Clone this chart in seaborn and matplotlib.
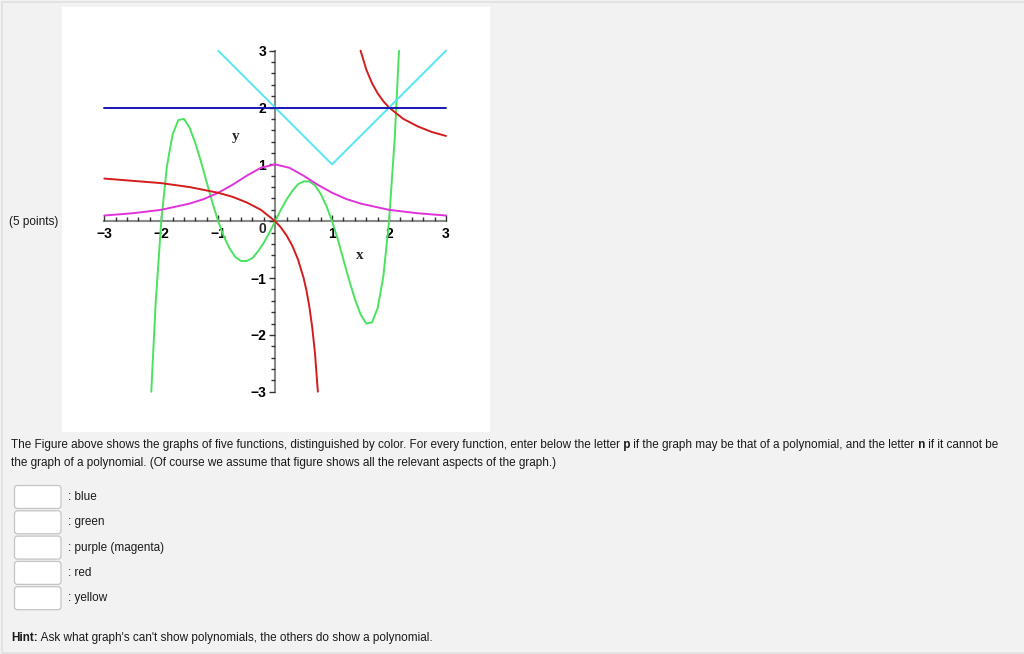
import matplotlib
matplotlib.use("Agg")
import matplotlib.pyplot as plt
import seaborn as sns
from matplotlib.patches import Rectangle, FancyBboxPatch
from matplotlib.ticker import MultipleLocator
from matplotlib.transforms import IdentityTransform

W, H = 1024, 654

# curve data
blue_x = [-3, 3]
blue_y = [2, 2]

cyan_x = [-1, 0, 1, 2, 3]
cyan_y = [3, 2, 1, 2, 3]

red_left_x = [-3, -2.5, -2, -1.5, -1, -0.75, -0.5, -0.25, 0, 0.1, 0.2, 0.3, 0.4,
              0.5, 0.55, 0.6, 0.65, 0.7, 0.75]
red_left_y = [0.75, 0.71, 0.67, 0.6, 0.5, 0.43, 0.33, 0.2, 0, -0.11, -0.25, -0.43,
              -0.67, -1.0, -1.22, -1.5, -1.86, -2.33, -3.0]
red_right_x = [1.5, 1.6, 1.7, 1.8, 1.9, 2.0, 2.25, 2.5, 2.75, 3.0]
red_right_y = [3.0, 2.67, 2.43, 2.25, 2.11, 2.0, 1.8, 1.67, 1.57, 1.5]

magenta_x = [-3, -2.5, -2, -1.5, -1.25, -1, -0.75, -0.5, -0.25, 0, 0.25, 0.5, 0.75,
             1, 1.25, 1.5, 2, 2.5, 3]
magenta_y = [0.1, 0.14, 0.2, 0.31, 0.39, 0.5, 0.64, 0.8, 0.94, 1.0, 0.94, 0.8, 0.64,
             0.5, 0.39, 0.31, 0.2, 0.14, 0.1]

green_x = [-2.175, -2.1, -2.0, -1.9, -1.8, -1.7, -1.6, -1.5, -1.4, -1.3, -1.2, -1.1,
           -1.0, -0.9, -0.8, -0.7, -0.6, -0.5, -0.4, -0.3, -0.2, -0.1, 0.0,
           0.1, 0.2, 0.3, 0.4, 0.5, 0.6, 0.7, 0.8, 0.9, 1.0, 1.1, 1.2, 1.3, 1.4,
           1.5, 1.6, 1.7, 1.8, 1.9, 2.0, 2.1, 2.175]
green_y = [-3.0, -1.47, 0, 0.97, 1.53, 1.78, 1.8, 1.64, 1.37, 1.04, 0.68, 0.32,
           0, -0.27, -0.48, -0.63, -0.70, -0.70, -0.65, -0.53, -0.38, -0.2, 0,
           0.2, 0.38, 0.53, 0.65, 0.70, 0.70, 0.63, 0.48, 0.27, 0, -0.32, -0.68,
           -1.04, -1.37, -1.64, -1.8, -1.78, -1.53, -0.97, 0, 1.47, 3.0]

major_ticks = [-3, -2, -1, 0, 1, 2, 3]
answer_labels = [": blue", ": green", ": purple (magenta)", ": red", ": yellow"]

sns.set_theme(style="white")
plt.rcParams['font.family'] = ['Liberation Sans', 'DejaVu Sans']

fig = plt.figure(figsize=(W / 100, H / 100), dpi=100)
fig.patch.set_facecolor('#f2f2f2')

# page border (open on the right) + white plot panel
fig.add_artist(Rectangle((2, 1.5), W + 10, H - 3.5, transform=IdentityTransform(),
                         facecolor='none', edgecolor='#e0e0e0', lw=1.2, zorder=-2))
fig.add_artist(Rectangle((62, H - 432), 428, 425, transform=IdentityTransform(),
                         facecolor='white', edgecolor='none', zorder=-1))

# axes so that x,y in [-3,3] land on the same pixels as the reference
x0, x1 = 104.3, 446.0
y_top, y_bot = 50.7, 391.7
ax = fig.add_axes([x0 / W, 1 - y_bot / H, (x1 - x0) / W, (y_bot - y_top) / H])
ax.patch.set_alpha(0)

lw = 1.4
sns.lineplot(x=green_x, y=green_y, ax=ax, color='#4ae35e', lw=lw, sort=False,
             estimator=None, clip_on=False)
sns.lineplot(x=magenta_x, y=magenta_y, ax=ax, color='#e033dc', lw=lw, sort=False,
             estimator=None, clip_on=False)
sns.lineplot(x=red_left_x, y=red_left_y, ax=ax, color='#d41c1c', lw=lw, sort=False,
             estimator=None, clip_on=False)
sns.lineplot(x=red_right_x, y=red_right_y, ax=ax, color='#d41c1c', lw=lw, sort=False,
             estimator=None, clip_on=False)
sns.lineplot(x=cyan_x, y=cyan_y, ax=ax, color='#55e6f2', lw=lw, sort=False,
             estimator=None, clip_on=False)
sns.lineplot(x=blue_x, y=blue_y, ax=ax, color='#1818b4', lw=lw, sort=False,
             estimator=None, clip_on=False)

ax.set_xlim(-3, 3)
ax.set_ylim(-3, 3)
for side in ['top', 'right']:
    ax.spines[side].set_visible(False)
for side in ['left', 'bottom']:
    ax.spines[side].set_position(('data', 0))
    ax.spines[side].set_color('#8a8a8a')
    ax.spines[side].set_linewidth(1.5)
    ax.spines[side].set_zorder(0.5)

tick_font = dict(family='Liberation Sans', weight='bold', size=10)
ax.set_xticks(major_ticks)
ax.set_xticklabels(['' if t == 0 else f'\u2212{abs(t)}' if t < 0 else str(t)
                    for t in major_ticks], fontdict=tick_font)
ax.set_yticks(major_ticks)
ax.set_yticklabels(['' if t == 0 else f'\u2212{abs(t)}' if t < 0 else str(t)
                    for t in major_ticks], fontdict=tick_font)
ax.xaxis.set_minor_locator(MultipleLocator(0.2))
ax.yaxis.set_minor_locator(MultipleLocator(0.2))
ax.tick_params(axis='x', which='both', direction='in', bottom=True, color='#333333',
               width=1, pad=4.5, labelcolor='black')
ax.tick_params(axis='y', which='both', direction='out', left=True, color='#333333',
               width=1, pad=2, labelcolor='black')
ax.tick_params(which='major', length=4.5)
ax.tick_params(which='minor', length=3)
ax.text(-0.15, -0.02, '0', ha='right', va='top', family='Liberation Sans',
        weight='bold', size=10)
ax.text(-0.70, 1.49, 'y', ha='center', va='center', family='Liberation Serif',
        weight='bold', size=11)
ax.text(1.49, -0.60, 'x', ha='center', va='center', family='Liberation Serif',
        weight='bold', size=11)

# page text
def put(x, y, s, **kw):
    return fig.text(x / W, 1 - y / H, s, **kw)

renderer = fig.canvas.get_renderer()

def runs(x, y, parts, size):
    for s, wgt in parts:
        t = put(x, y, s, fontsize=size, fontweight=wgt, va='baseline', color='#1a1a1a')
        x += t.get_window_extent(renderer).width

fs = 8.5
put(9, 222, "(5 points)", fontsize=fs, va='center', color='#1a1a1a')
runs(11, 448, [("The Figure above shows the graphs of five functions, distinguished by color. "
                "For every function, enter below the letter", 'normal'),
               (" p", 'bold'),
               (" if the graph may be that of a polynomial, and the letter", 'normal'),
               (" n", 'bold'),
               (" if it cannot be", 'normal')], fs)
put(11, 466, "the graph of a polynomial. (Of course we assume that figure shows all the "
    "relevant aspects of the graph.)", fontsize=fs, va='baseline', color='#1a1a1a')

for i, lab in enumerate(answer_labels):
    yc = 497 + i * 25.3
    fig.add_artist(FancyBboxPatch((14.5, H - yc - 11.5), 46.5, 23,
                                  boxstyle='round,pad=0,rounding_size=3',
                                  transform=IdentityTransform(), facecolor='white',
                                  edgecolor='#c4c4c4', lw=0.9))
    put(68, yc, lab, fontsize=fs, va='center', color='#1a1a1a')

runs(11, 641, [("Hint:", 'bold'),
               (" Ask what graph's can't show polynomials, the others do show a polynomial.",
                'normal')], fs)

fig.savefig("out.png", dpi=100, facecolor=fig.get_facecolor())
